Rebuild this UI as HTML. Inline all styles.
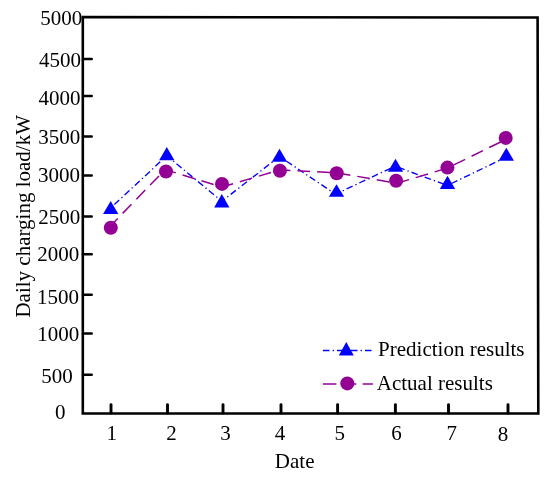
<!DOCTYPE html>
<html>
<head>
<meta charset="utf-8">
<style>
html,body{margin:0;padding:0;background:#fff;}
body{width:550px;height:477px;overflow:hidden;}
svg{display:block;}
text{font-family:"Liberation Serif","Times New Roman",serif;font-size:21px;fill:#000;}
</style>
</head>
<body>
<svg width="550" height="477" viewBox="0 0 550 477">
<rect x="0" y="0" width="550" height="477" fill="#fff"/>
<g fill="none" stroke="#0000ff" stroke-width="1.35" stroke-dasharray="6.6 3.1 1.3 3.0"><line x1="110.70" y1="207.90" x2="166.80" y2="155.70" stroke-dashoffset="-5.00"/><line x1="166.80" y1="155.70" x2="221.80" y2="201.30" stroke-dashoffset="-12.60"/><line x1="221.80" y1="201.30" x2="279.50" y2="156.45" stroke-dashoffset="-11.25"/><line x1="279.50" y1="156.45" x2="335.50" y2="194.20" stroke-dashoffset="-8.50"/><line x1="335.50" y1="194.20" x2="395.00" y2="166.20" stroke-dashoffset="-12.30"/><line x1="395.00" y1="166.20" x2="447.50" y2="185.40" stroke-dashoffset="-3.60"/><line x1="447.50" y1="185.40" x2="506.30" y2="157.10" stroke-dashoffset="-4.40"/></g>
<g fill="none" stroke="#940094" stroke-width="1.5" stroke-dasharray="12.7 7.05"><line x1="110.80" y1="225.60" x2="165.10" y2="169.60" stroke-dashoffset="-17.00"/><line x1="165.10" y1="169.60" x2="222.00" y2="187.00" stroke-dashoffset="-18.30"/><line x1="222.00" y1="187.00" x2="279.90" y2="169.85" stroke-dashoffset="-18.60"/><line x1="279.90" y1="169.85" x2="336.70" y2="172.80" stroke-dashoffset="-17.55"/><line x1="336.70" y1="172.80" x2="397.00" y2="183.30" stroke-dashoffset="-1.15"/><line x1="397.00" y1="183.30" x2="447.40" y2="168.00" stroke-dashoffset="0.15"/><line x1="447.40" y1="168.00" x2="505.70" y2="139.50" stroke-dashoffset="-7.10"/></g>
<g fill="#0000ff"><polygon points="110.70,201.10 103.05,213.90 118.35,213.90"/><polygon points="166.80,147.00 159.15,160.20 174.45,160.20"/><polygon points="221.80,194.00 214.15,207.50 229.45,207.50"/><polygon points="279.50,148.80 271.85,161.70 287.15,161.70"/><polygon points="336.50,184.20 328.85,196.80 344.15,196.80"/><polygon points="395.50,158.80 387.85,171.70 403.15,171.70"/><polygon points="447.50,175.80 439.85,189.00 455.15,189.00"/><polygon points="506.30,147.70 498.65,160.70 513.95,160.70"/></g>
<g fill="#940094"><circle cx="110.80" cy="227.70" r="7.00"/><circle cx="166.00" cy="171.50" r="7.00"/><circle cx="222.00" cy="183.90" r="7.00"/><circle cx="279.90" cy="170.80" r="7.00"/><circle cx="336.70" cy="173.30" r="7.00"/><circle cx="396.10" cy="180.80" r="7.00"/><circle cx="447.40" cy="167.60" r="7.00"/><circle cx="505.70" cy="137.90" r="7.00"/></g>
<path d="M82.8,17.0 L537.6,17.5 L538.3,413.5 L82.8,413.5 Z" fill="none" stroke="#000" stroke-width="2.6" stroke-linejoin="miter"/>
<g stroke="#000" stroke-width="2.5" stroke-linecap="round"><line x1="83" y1="59.00" x2="91.7" y2="59.00"/><line x1="83" y1="96.00" x2="91.7" y2="96.00"/><line x1="83" y1="136.40" x2="91.7" y2="136.40"/><line x1="83" y1="175.60" x2="91.7" y2="175.60"/><line x1="83" y1="216.40" x2="91.7" y2="216.40"/><line x1="83" y1="254.30" x2="91.7" y2="254.30"/><line x1="83" y1="294.80" x2="91.7" y2="294.80"/><line x1="83" y1="333.60" x2="91.7" y2="333.60"/><line x1="83" y1="374.70" x2="91.7" y2="374.70"/></g>
<g stroke="#000" stroke-width="2.9" stroke-linecap="round"><line x1="111.00" y1="413" x2="111.00" y2="404.6"/><line x1="167.50" y1="413" x2="167.50" y2="404.6"/><line x1="223.00" y1="413" x2="223.00" y2="404.6"/><line x1="281.00" y1="413" x2="281.00" y2="404.6"/><line x1="337.60" y1="413" x2="337.60" y2="404.6"/><line x1="395.40" y1="413" x2="395.40" y2="404.6"/><line x1="448.50" y1="413" x2="448.50" y2="404.6"/><line x1="508.00" y1="413" x2="508.00" y2="404.6"/></g>
<g><text x="40.20" y="24.55">5000</text><text x="38.90" y="66.90">4500</text><text x="38.60" y="104.60">4000</text><text x="38.20" y="143.95">3500</text><text x="38.10" y="182.05">3000</text><text x="38.35" y="223.60">2500</text><text x="37.20" y="261.35">2000</text><text x="37.05" y="303.95">1500</text><text x="37.25" y="341.45">1000</text><text x="41.25" y="382.95">500</text><text x="54.95" y="419.05">0</text></g>
<g><text x="106.50" y="439.65">1</text><text x="166.35" y="439.55">2</text><text x="220.25" y="439.80">3</text><text x="274.75" y="439.55">4</text><text x="334.50" y="439.80">5</text><text x="391.25" y="439.55">6</text><text x="446.40" y="440.40">7</text><text x="497.65" y="440.50">8</text></g>
<text x="274.85" y="468.35">Date</text>
<text transform="translate(30.3,317.55) rotate(-90)">Daily charging load/kW</text>
<line x1="322.9" y1="350.5" x2="372.4" y2="350.5" stroke="#0000ff" stroke-width="1.35" stroke-dasharray="6.6 3.1 1.3 3.0"/>
<polygon fill="#0000ff" points="346.3,342 338.8,355.4 353.8,355.4"/>
<line x1="322.9" y1="384" x2="372.9" y2="384" stroke="#940094" stroke-width="1.4" stroke-dasharray="13.5 6.4"/>
<circle fill="#940094" cx="347.3" cy="383.4" r="7.00"/>
<text x="378.1" y="356">Prediction results</text>
<text x="376.8" y="389.6">Actual results</text>
</svg>
</body>
</html>
